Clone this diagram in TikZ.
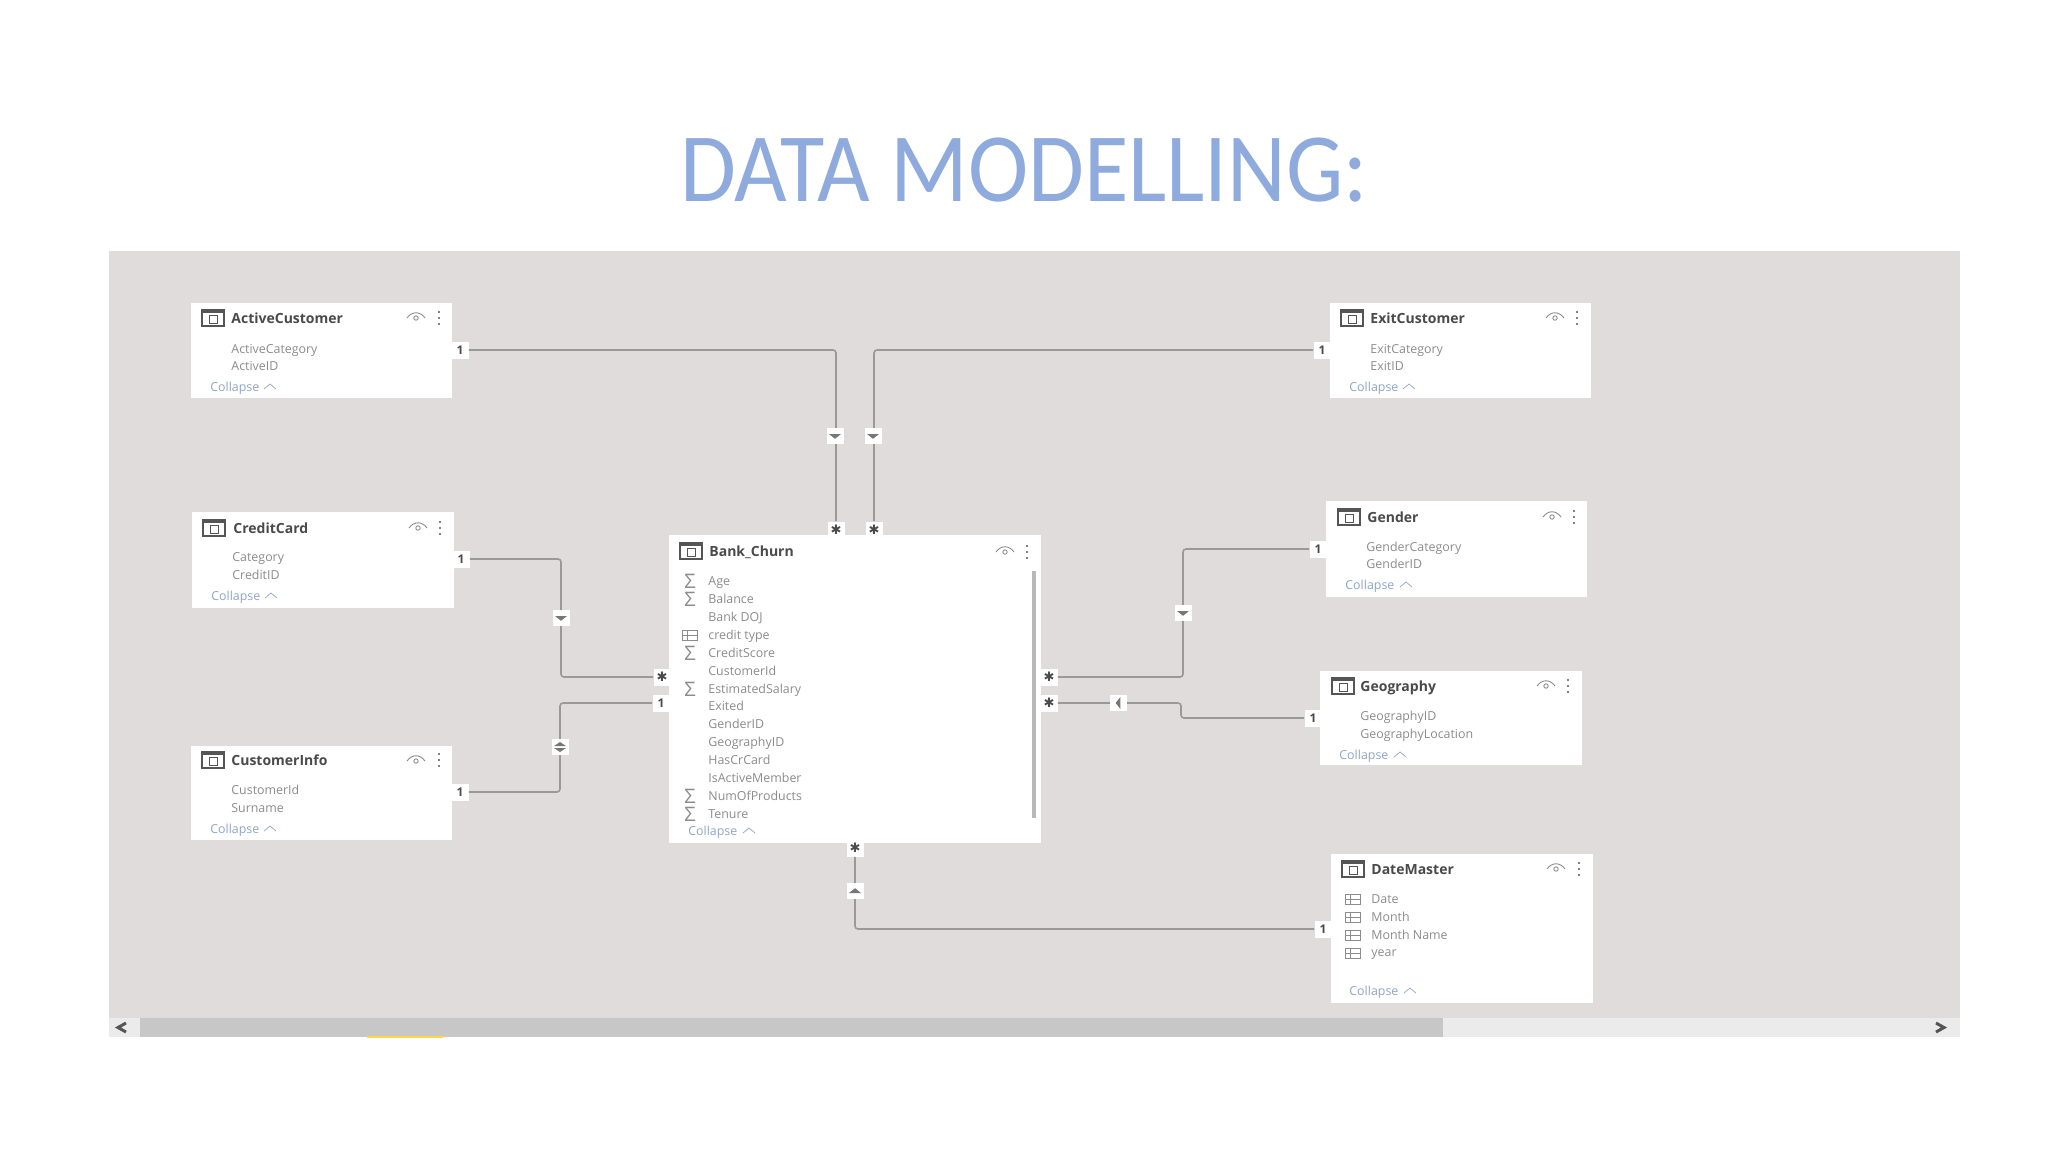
\documentclass[tikz,border=0pt]{standalone}
\usepackage{fontspec}
\setmainfont{Open Sans}
\newfontfamily\titlefont{Carlito}
\newfontfamily\starfont{DejaVu Sans}
\definecolor{panelgray}{HTML}{E0DCDB}
\definecolor{titleblue}{HTML}{8FAADC}
\definecolor{headtext}{HTML}{4A4A4A}
\definecolor{fieldtext}{HTML}{8C8C8C}
\definecolor{linkblue}{HTML}{8FA6C4}
\definecolor{relline}{HTML}{999999}
\definecolor{iconline}{HTML}{555555}
\tikzset{
  cardbox/.style={fill=white,draw=none,inner sep=0pt,anchor=north west},
  cardhead/.style={font=\fontsize{7}{8}\selectfont\bfseries,text=headtext,anchor=west,inner sep=0pt,text height=5.4pt,text depth=1.6pt,yshift=-0.7pt},
  fieldlabel/.style={font=\fontsize{6.2}{7}\selectfont,text=fieldtext,anchor=west,inner sep=0pt,text height=5pt,text depth=1.5pt,yshift=-0.6pt},
  collapselabel/.style={font=\fontsize{6.2}{7}\selectfont,text=linkblue,anchor=west,inner sep=0pt,text height=5pt,text depth=1.5pt,yshift=-0.4pt},
  sigmaicon/.style={font=\fontsize{10}{10}\selectfont,text=fieldtext,inner sep=0pt},
  relation/.style={draw=relline,line width=0.8pt,rounded corners=1.5pt},
  chip/.style={fill=white,draw=none,minimum width=8.5pt,minimum height=8.5pt,inner sep=0pt,font=\fontsize{6}{6}\selectfont\bfseries,text=headtext},
  starchip/.style={chip,font=\starfont\fontsize{6.5}{6}\selectfont,text=headtext},
  arrowchip/.style={fill=white,draw=none,minimum width=8.5pt,minimum height=8pt,inner sep=0pt},
  downchip/.style={arrowchip,path picture={\fill[iconline!80] ([xshift=-3pt,yshift=1pt]path picture bounding box.center) -- ++(6pt,0) -- ++(-3pt,-2.4pt) -- cycle;}},
  upchip/.style={arrowchip,path picture={\fill[iconline!80] ([xshift=-3pt,yshift=-1pt]path picture bounding box.center) -- ++(6pt,0) -- ++(-3pt,2.4pt) -- cycle;}},
  leftchip/.style={arrowchip,path picture={\fill[iconline!80] ([xshift=1.2pt,yshift=-3pt]path picture bounding box.center) -- ++(0,6pt) -- ++(-2.4pt,-3pt) -- cycle;}},
  bothchip/.style={arrowchip,path picture={\fill[iconline!80] ([xshift=-3pt,yshift=0.5pt]path picture bounding box.center) -- ++(6pt,0) -- ++(-3pt,2pt) -- cycle;
     \fill[iconline!80] ([xshift=-3pt,yshift=-0.5pt]path picture bounding box.center) -- ++(6pt,0) -- ++(-3pt,-2pt) -- cycle;}},
}
\newcommand{\tableicon}[2]{%
  \draw[iconline,line width=0.55pt] (#1-11,#2-8) rectangle (#1+11,#2+8);
  \draw[iconline,line width=0.7pt] (#1-11,#2-6) -- (#1+11,#2-6);
  \draw[iconline,line width=0.5pt] (#1-4,#2-3) rectangle (#1+4,#2+5);
}
\newcommand{\eyeicon}[2]{%
  \draw[fieldtext,line width=0.45pt] (#1-9,#2+1) .. controls (#1-4,#2-6) and (#1+4,#2-6) .. (#1+9,#2+1);
  \draw[fieldtext,line width=0.45pt] (#1,#2+1) circle (1.1pt);
}
\newcommand{\dotsicon}[2]{%
  \fill[iconline] (#1,#2-6) circle (0.55pt) (#1,#2) circle (0.55pt) (#1,#2+6) circle (0.55pt);
}
\newcommand{\chevicon}[2]{%
  \draw[linkblue,line width=0.35pt] (#1-6,#2+2) -- (#1,#2-3) -- (#1+6,#2+2);
}
\newcommand{\calcicon}[2]{%
  \draw[fieldtext,line width=0.45pt] (#1-8,#2-5) rectangle (#1+7,#2+5);
  \draw[fieldtext,line width=0.35pt] (#1-3,#2-5) -- (#1-3,#2+5) (#1-8,#2) -- (#1+7,#2);
}
\begin{document}
\begin{tikzpicture}[x=0.5pt,y=-0.5pt]
\useasboundingbox (0,0) rectangle (2048,1152);
\fill[white] (0,0) rectangle (2048,1152);
\node[font=\titlefont\fontsize{49}{50}\selectfont,text=titleblue,inner sep=0pt,xscale=0.927,transform shape] (title) at (1024,170) {DATA MODELLING:};
\fill[panelgray] (109,251) rectangle (1960,1018);
\fill[black!8] (109,1018) rectangle (1960,1037);
\fill[black!22] (140,1018) rectangle (1443,1037);
\fill[yellow!60!orange!70] (367,1035.5) rectangle (443,1037.5);
\draw[iconline,line width=1.5pt] (126,1023) -- (118,1027.5) -- (126,1032);
\draw[iconline,line width=1.5pt] (1936,1023) -- (1944,1027.5) -- (1936,1032);

% ---------- cards
\newcommand{\cardbase}[5]{% name x y w h
  \node[cardbox,minimum width=#4*0.5pt,minimum height=#5*0.5pt] (#1) at (#2,#3) {};
}
\cardbase{active}{191}{303}{261}{95}
\cardbase{credit}{192}{512}{262}{96}
\cardbase{custinfo}{191}{746}{261}{94}
\cardbase{churn}{669}{535}{372}{308}
\cardbase{exitc}{1330}{303}{261}{95}
\cardbase{gender}{1326}{501}{261}{96}
\cardbase{geo}{1320}{671}{262}{94}
\cardbase{datem}{1331}{854}{262}{149}

% ActiveCustomer
\tableicon{213}{318}\eyeicon{416}{317}\dotsicon{439}{318}
\node[cardhead] (activeT) at (231,318) {ActiveCustomer};
\node[fieldlabel] (activeF1) at (231,349) {ActiveCategory};
\node[fieldlabel] (activeF2) at (231,366) {ActiveID};
\node[collapselabel] (activeC) at (210,387) {Collapse};\chevicon{270}{387}

% CreditCard
\tableicon{214}{528}\eyeicon{418}{527}\dotsicon{440}{528}
\node[cardhead] (creditT) at (233,528) {CreditCard};
\node[fieldlabel] (creditF1) at (232,557) {Category};
\node[fieldlabel] (creditF2) at (232,575) {CreditID};
\node[collapselabel] (creditC) at (211,596) {Collapse};\chevicon{271}{596}

% CustomerInfo
\tableicon{213}{760}\eyeicon{416}{760}\dotsicon{439}{760}
\node[cardhead] (custinfoT) at (231,760) {CustomerInfo};
\node[fieldlabel] (custinfoF1) at (231,790) {CustomerId};
\node[fieldlabel] (custinfoF2) at (231,808) {Surname};
\node[collapselabel] (custinfoC) at (210,829) {Collapse};\chevicon{270}{829}

% ExitCustomer
\tableicon{1352}{318}\eyeicon{1555}{317}\dotsicon{1577}{318}
\node[cardhead] (exitT) at (1370,318) {ExitCustomer};
\node[fieldlabel] (exitF1) at (1370,349) {ExitCategory};
\node[fieldlabel] (exitF2) at (1370,366) {ExitID};
\node[collapselabel] (exitC) at (1349,387) {Collapse};\chevicon{1409}{387}

% Gender
\tableicon{1349}{517}\eyeicon{1552}{516}\dotsicon{1574}{517}
\node[cardhead] (genderT) at (1367,517) {Gender};
\node[fieldlabel] (genderF1) at (1366,547) {GenderCategory};
\node[fieldlabel] (genderF2) at (1366,564) {GenderID};
\node[collapselabel] (genderC) at (1345,585) {Collapse};\chevicon{1406}{585}

% Geography
\tableicon{1343}{686}\eyeicon{1546}{685}\dotsicon{1568}{686}
\node[cardhead] (geoT) at (1360,686) {Geography};
\node[fieldlabel] (geoF1) at (1360,716) {GeographyID};
\node[fieldlabel] (geoF2) at (1360,734) {GeographyLocation};
\node[collapselabel] (geoC) at (1339,755) {Collapse};\chevicon{1400}{755}

% DateMaster
\tableicon{1353}{869}\eyeicon{1556}{868}\dotsicon{1579}{869}
\node[cardhead] (dateT) at (1371,869) {DateMaster};
\node[fieldlabel] (dateF1) at (1371,899) {Date};
\node[fieldlabel] (dateF2) at (1371,917) {Month};
\node[fieldlabel] (dateF3) at (1371,935) {Month Name};
\node[fieldlabel] (dateF4) at (1371,952) {year};
\calcicon{1353}{899}\calcicon{1353}{917}\calcicon{1353}{935}\calcicon{1353}{953}
\node[collapselabel] (dateC) at (1349,991) {Collapse};\chevicon{1410}{991}

% Bank_Churn
\tableicon{691}{551}\eyeicon{1005}{551}\dotsicon{1027}{552}
\node[cardhead] (churnT) at (709,551) {Bank\_Churn};
\node[fieldlabel] (c01) at (708,581) {Age};
\node[fieldlabel] (c02) at (708,599) {Balance};
\node[fieldlabel] (c03) at (708,617) {Bank DOJ};
\node[fieldlabel] (c04) at (708,635) {credit type};
\node[fieldlabel] (c05) at (708,653) {CreditScore};
\node[fieldlabel] (c06) at (708,671) {CustomerId};
\node[fieldlabel] (c07) at (708,689) {EstimatedSalary};
\node[fieldlabel] (c08) at (708,706) {Exited};
\node[fieldlabel] (c09) at (708,724) {GenderID};
\node[fieldlabel] (c10) at (708,742) {GeographyID};
\node[fieldlabel] (c11) at (708,760) {HasCrCard};
\node[fieldlabel] (c12) at (708,778) {IsActiveMember};
\node[fieldlabel] (c13) at (708,796) {NumOfProducts};
\node[fieldlabel] (c14) at (708,814) {Tenure};
\node[sigmaicon] (s01) at (690,581) {Σ};
\node[sigmaicon] (s02) at (690,599) {Σ};
\node[sigmaicon] (s05) at (690,653) {Σ};
\node[sigmaicon] (s07) at (690,689) {Σ};
\node[sigmaicon] (s13) at (690,796) {Σ};
\node[sigmaicon] (s14) at (690,814) {Σ};
\calcicon{690}{635}
\node[collapselabel] (churnC) at (688,831) {Collapse};\chevicon{749}{831}
\fill[black!28] (1032,571) rectangle (1036,818);

% ---------- chips
\node[chip] (activeOne) at (460,350) {1};
\node[chip] (exitOne) at (1322,350) {1};
\node[chip] (creditOne) at (461,559) {1};
\node[chip] (custOne) at (460,792) {1};
\node[chip] (genderOne) at (1318,549) {1};
\node[chip] (geoOne) at (1313,718) {1};
\node[chip] (dateOne) at (1323,929) {1};
\node[chip] (churnOne) at (661,703) {1};
\node[starchip] (topStarA) at (836,530) {✱};
\node[starchip] (topStarB) at (874,530) {✱};
\node[starchip] (leftStar) at (662,677) {✱};
\node[starchip] (rightStarA) at (1049,677) {✱};
\node[starchip] (rightStarB) at (1049,703) {✱};
\node[starchip] (bottomStar) at (855,848) {✱};

% ---------- connectors
\draw[relation] (activeOne) -| (topStarA);
\draw[relation] (exitOne) -| (topStarB);
\draw[relation] (creditOne) -| (561,677) -- (leftStar);
\draw[relation] (custOne) -| (560,703) -- (churnOne);
\draw[relation] (genderOne) -| (1183,677) -- (rightStarA);
\draw[relation] (geoOne) -| (1181,703) -- (rightStarB);
\draw[relation] (dateOne) -| (bottomStar);

% ---------- direction chips
\node[downchip] (dirActive) at (835,436) {};
\node[downchip] (dirExit) at (873,436) {};
\node[downchip] (dirCredit) at (561,618) {};
\node[bothchip] (dirCust) at (560,747) {};
\node[downchip] (dirGender) at (1183,613) {};
\node[leftchip] (dirGeo) at (1118,703) {};
\node[upchip] (dirDate) at (855,891) {};
\end{tikzpicture}
\end{document}
